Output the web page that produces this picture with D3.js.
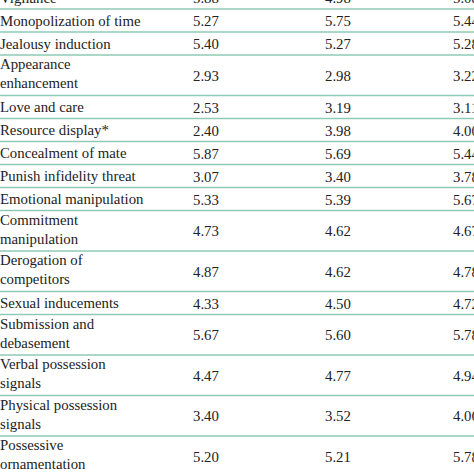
<!DOCTYPE html>
<meta charset="utf-8">
<script src="https://d3js.org/d3.v7.min.js"></script>
<style>
  body { margin: 0; background: #fff; }
  text { font-family: "Liberation Serif", "Times New Roman", serif; font-size: 14.8px; fill: #222; }
</style>
<div id="tbl"></div>
<script>
var labels = [
  ["Vigilance"],
  ["Monopolization of time"],
  ["Jealousy induction"],
  ["Appearance", "enhancement"],
  ["Love and care"],
  ["Resource display*"],
  ["Concealment of mate"],
  ["Punish infidelity threat"],
  ["Emotional manipulation"],
  ["Commitment", "manipulation"],
  ["Derogation of", "competitors"],
  ["Sexual inducements"],
  ["Submission and", "debasement"],
  ["Verbal possession", "signals"],
  ["Physical possession", "signals"],
  ["Possessive", "ornamentation"]
];
var col1 = ["5.88", "5.27", "5.40", "2.93", "2.53", "2.40", "5.87", "3.07", "5.33", "4.73", "4.87", "4.33", "5.67", "4.47", "3.40", "5.20"];
var col2 = ["4.98", "5.75", "5.27", "2.98", "3.19", "3.98", "5.69", "3.40", "5.39", "4.62", "4.62", "4.50", "5.60", "4.77", "3.52", "5.21"];
var col3 = ["5.08", "5.44", "5.28", "3.22", "3.11", "4.00", "5.44", "3.78", "5.67", "4.67", "4.78", "4.72", "5.78", "4.94", "4.06", "5.78"];

var W = 474, H = 474;
var svg = d3.select("#tbl").append("svg").attr("width", W).attr("height", H);

// row tops: single-line rows 23px, two-line rows 40.5px
var tops = [], y = -14;
labels.forEach(function(l) {
  var h = l.length > 1 ? 40.5 : 23;
  tops.push({ y: y, h: h });
  y += h;
});

var x = d3.scaleOrdinal().domain([0, 1, 2]).range([193, 325, 453]);

var rows = svg.selectAll("g.row").data(labels).enter().append("g")
  .attr("transform", function(d, i) { return "translate(0," + tops[i].y + ")"; });

rows.append("line")
  .attr("x1", 0).attr("x2", W)
  .attr("y1", function(d, i) { return tops[i].h; })
  .attr("y2", function(d, i) { return tops[i].h; })
  .attr("stroke", "#8fcab6").attr("stroke-width", 1.6);

rows.each(function(d, i) {
  var g = d3.select(this), h = tops[i].h;
  d.forEach(function(t, k) {
    var ty = d.length > 1 ? (k === 0 ? 14 : 33) : 16.5;
    g.append("text").attr("x", 0).attr("y", ty).text(t);
  });
  [col1[i], col2[i], col3[i]].forEach(function(v, c) {
    g.append("text").attr("x", x(c)).attr("y", h / 2 + 5.5).text(v);
  });
});
</script>
